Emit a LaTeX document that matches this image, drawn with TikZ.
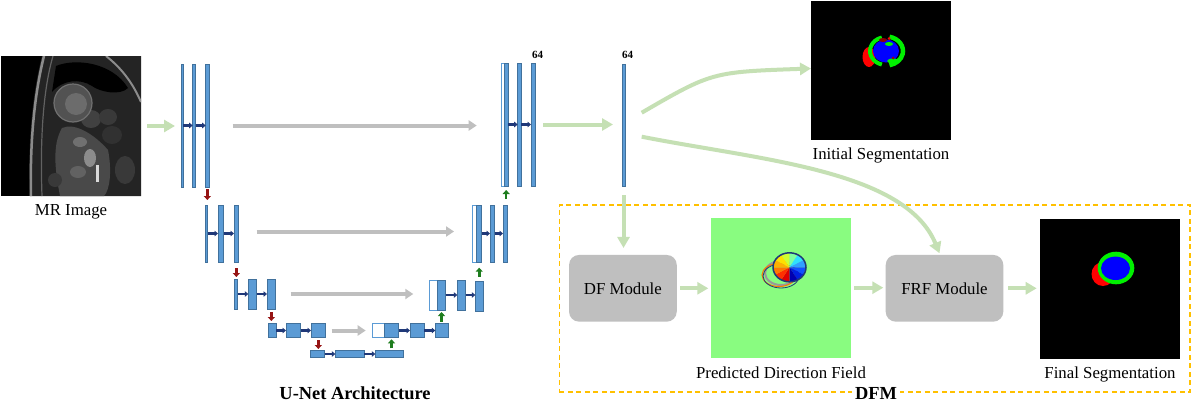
\documentclass[tikz,border=0pt]{standalone}
\usepackage{fontspec}
\setmainfont{Liberation Serif}
\usetikzlibrary{arrows.meta,fit,calc}
\definecolor{ublue}{RGB}{91,155,213}
\definecolor{ubord}{RGB}{65,113,156}
\definecolor{navyc}{RGB}{31,56,120}
\definecolor{redc}{RGB}{150,20,20}
\definecolor{greenc}{RGB}{30,125,30}
\definecolor{grayc}{RGB}{191,191,191}
\definecolor{lgreen}{RGB}{197,224,180}
\definecolor{modgray}{RGB}{191,191,191}
\definecolor{dfmorange}{RGB}{255,192,0}
\definecolor{dfgreen}{RGB}{137,252,128}
\definecolor{segred}{RGB}{255,0,0}
\definecolor{seggreen}{RGB}{0,240,0}
\definecolor{segblue}{RGB}{0,0,255}
\definecolor{mrdark}{gray}{0.14}
\definecolor{mrmid}{gray}{0.32}
\definecolor{mrlight}{gray}{0.55}
\definecolor{dfa}{RGB}{224,0,0}
\definecolor{dfb}{RGB}{255,48,0}
\definecolor{dfc}{RGB}{255,120,0}
\definecolor{dfd}{RGB}{255,176,0}
\definecolor{dfe}{RGB}{255,224,0}
\definecolor{dff}{RGB}{208,255,48}
\definecolor{dfg}{RGB}{128,255,160}
\definecolor{dfh}{RGB}{48,224,255}
\definecolor{dfi}{RGB}{48,160,255}
\definecolor{dfj}{RGB}{16,80,255}
\definecolor{dfk}{RGB}{0,32,224}
\definecolor{dfl}{RGB}{0,0,176}
\newcommand\ublk[6][ublkst]{\path (#3,#4) coordinate (#2-p) (#5,#6) coordinate (#2-q); \node[#1, fit=(#2-p)(#2-q)] (#2) {};}
\tikzset{
  lbl/.style={font=\fontsize{16.8}{20}\selectfont, inner sep=0pt},
  blbl/.style={font=\fontsize{18.4}{22}\selectfont\bfseries, inner sep=0pt},
  numlbl/.style={font=\fontsize{11}{13}\selectfont\bfseries, inner sep=0pt},
  ublkst/.style={fill=ublue, draw=ubord, line width=0.5pt, inner sep=0pt, outer sep=0pt},
  wblkst/.style={fill=white, draw=ublue, line width=0.8pt, inner sep=0pt, outer sep=0pt},
  imgst/.style={fill=black, inner sep=0pt, outer sep=0pt},
  modst/.style={fill=modgray, rounded corners=10pt, inner sep=0pt, outer sep=0pt, font=\fontsize{16.8}{20}\selectfont},
  dfmst/.style={draw=dfmorange, line width=1.3pt, dash pattern=on 5pt off 3.5pt, inner sep=0pt},
  navyarr/.style={draw=navyc, line width=2.4pt, -{Triangle[length=3.5pt,width=5.5pt]}},
  rarr/.style={draw=redc, line width=2.6pt, -{Triangle[length=4pt,width=7pt]}},
  gnarr/.style={draw=greenc, line width=2.6pt, -{Triangle[length=4pt,width=7pt]}},
  garr/.style={draw=grayc, line width=4pt, -{Triangle[length=8pt,width=10pt]}},
  lgarr/.style={draw=lgreen, line width=4pt, -{Triangle[length=11pt,width=12pt]}}
}
\begin{document}
\begin{tikzpicture}[x=1pt,y=-1pt]
\useasboundingbox (0,0) rectangle (1196,402);
\fill[white] (0,0) rectangle (1196,402);

% ---------- MR image ----------
\node[imgst, minimum width=140pt, minimum height=140pt] (mr) at (71,126) {};
\begin{scope}
\clip (1,56) rectangle (141,196);
\fill[mrdark] (42,56) .. controls (31,100) and (28,150) .. (30,196) -- (141,196) -- (141,56) -- cycle;
\fill[black] (56,66) .. controls (75,58) and (112,62) .. (128,88) .. controls (120,96) and (100,92) .. (92,86) .. controls (80,78) and (62,80) .. (52,92) -- cycle;
\draw[mrlight, line width=2.5pt] (44,56) .. controls (33,100) and (30,150) .. (31,196);
\draw[mrlight!70!black, line width=1.2pt] (53,56) .. controls (43,90) and (40,140) .. (42,196);
\draw[mrlight, line width=2pt] (106,56) .. controls (124,70) and (134,86) .. (141,102);
\fill[mrmid!80!black] (91,119) ellipse (10 and 9);
\fill[mrmid!70!black] (108,117) ellipse (9 and 8);
\fill[mrmid!60!black] (112,135) ellipse (10 and 9);
\fill[mrmid] (73,103) circle (19);
\draw[mrlight!80!black, line width=1.2pt] (73,103) circle (19);
\fill[mrmid!85!white] (76,104) circle (11);
\fill[mrmid!90!black] (62,128) .. controls (75,122) and (95,135) .. (108,150) .. controls (112,170) and (110,190) .. (104,196) -- (60,196) .. controls (55,170) and (52,145) .. cycle;
\fill[mrlight!80!black] (80,142) ellipse (7 and 5);
\fill[mrlight] (90,158) ellipse (6 and 9);
\fill[mrlight!70!black] (78,172) ellipse (8 and 6);
\fill[white!85!black] (96,165) rectangle (99,182);
\fill[mrmid!70!black] (55,180) circle (7);
\fill[mrmid!70!black] (125,170) ellipse (10 and 14);
\end{scope}
\node[lbl, anchor=base] (mrlbl) at (71,215) {MR Image};

% ---------- U-Net blocks ----------
\ublk{e1a}{181}{64}{183}{187}
\ublk{e1b}{192.7}{64}{195.7}{187}
\ublk{e1c}{205.7}{64}{209}{187}
\ublk[wblkst]{d1w}{501}{63}{504.3}{186}
\ublk{d1u}{504.3}{63}{508}{186}
\ublk{d1b}{517.7}{63}{521}{186}
\ublk{d1c}{531}{63}{535}{186}
\ublk{o1}{622}{64}{625}{186}

\ublk{e2a}{205}{205}{207.7}{262}
\ublk{e2b}{218}{205}{223.7}{262}
\ublk{e2c}{234}{205}{238.7}{262}
\ublk[wblkst]{d2w}{472}{205}{476.7}{262}
\ublk{d2u}{476.7}{205}{481.7}{262}
\ublk{d2b}{490}{205}{494.7}{262}
\ublk{d2c}{503}{205}{507.7}{262}

\ublk{e3a}{234}{279}{237.7}{309}
\ublk{e3b}{248.3}{279}{256.7}{309}
\ublk{e3c}{267}{279}{275.7}{309}
\ublk[wblkst]{d3w}{429.3}{280}{437.3}{310}
\ublk{d3u}{437.3}{280}{445.7}{310}
\ublk{d3b}{457.3}{280}{465.7}{310}
\ublk{d3c}{475.3}{281}{483.7}{311}

\ublk{e4a}{268}{323.3}{276}{337.7}
\ublk{e4b}{286}{323.3}{300.7}{337.7}
\ublk{e4c}{311}{323.3}{325.7}{337.7}
\ublk[wblkst]{d4w}{372.3}{323.3}{384.3}{337.7}
\ublk{d4u}{384.3}{323.3}{398.7}{337.7}
\ublk{d4b}{410}{323.3}{424.3}{337.7}
\ublk{d4c}{435.3}{323.3}{448.7}{337.7}

\ublk{b5a}{310.3}{350.7}{324.7}{357.3}
\ublk{b5b}{335.3}{350.7}{364.3}{357.3}
\ublk{b5c}{375.3}{350.7}{403.7}{357.3}

\node[numlbl, anchor=base] (n64a) at (537.5,58.5) {64};
\node[numlbl, anchor=base] (n64b) at (627.5,58.5) {64};
\node[blbl, anchor=base] (unetlbl) at (355,399) {U-Net Architecture};

% navy conv arrows
\draw[navyarr] (e1a) -- (e1b);
\draw[navyarr] (e1b) -- (e1c);
\draw[navyarr] (d1u) -- (d1b);
\draw[navyarr] (d1b) -- (d1c);
\draw[navyarr] (e2a) -- (e2b);
\draw[navyarr] (e2b) -- (e2c);
\draw[navyarr] (d2u) -- (d2b);
\draw[navyarr] (d2b) -- (d2c);
\draw[navyarr] (e3a) -- (e3b);
\draw[navyarr] (e3b) -- (e3c);
\draw[navyarr] (d3u.east) -- (d3u.east -| d3b.west);
\draw[navyarr] (d3b.east) -- (d3b.east -| d3c.west);
\draw[navyarr] (e4a) -- (e4b);
\draw[navyarr] (e4b) -- (e4c);
\draw[navyarr] (d4u) -- (d4b);
\draw[navyarr] (d4b) -- (d4c);
\draw[navyarr] (b5a) -- (b5b);
\draw[navyarr] (b5b) -- (b5c);

% gray skip arrows
\draw[garr] ([xshift=23.7pt]e1c.east) -- ([xshift=-24.3pt]e1c.east -| d1w.west);
\draw[garr] ([xshift=18pt,yshift=2pt]e2c.east) -- ([xshift=-18pt,yshift=2pt]e2c.east -| d2w.west);
\draw[garr] ([xshift=15pt]e3c.east) -- ([xshift=-16pt]e3c.east -| d3w.west);
\draw[garr] ([xshift=6pt]e4c.east) -- ([xshift=-6.6pt]e4c.east -| d4w.west);

% red pooling arrows
\draw[rarr] ([yshift=-2pt]e1c.south) -- ([yshift=5pt]e1c.south |- e2a.north);
\draw[rarr] ([yshift=-6pt]e2c.south) -- ([yshift=2pt]e2c.south |- e3a.north);
\draw[rarr] ([yshift=-3pt]e3c.south) -- ([yshift=2.3pt]e3c.south |- e4a.north);
\draw[rarr] ([yshift=-2.3pt]e4c.south) -- ([yshift=1.7pt]e4c.south |- b5a.north);

% green up arrows
\draw[gnarr] ([yshift=2.4pt]d4u.south |- b5c.north) -- ([yshift=-1.6pt]d4u.south);
\draw[gnarr] ([yshift=1.6pt]d3u.south |- d4c.north) -- ([yshift=-2pt]d3u.south);
\draw[gnarr] ([yshift=4.3pt]d2u.south |- d3c.north) -- ([yshift=-5.7pt]d2u.south);
\draw[gnarr] ([yshift=6pt]d1u.south |- d2c.north) -- ([yshift=-4pt]d1u.south);

% ---------- DFM frame ----------
\node[dfmst, minimum width=630.7pt, minimum height=187pt] (dfmbox) at (874.65,298.5) {};

% ---------- Initial segmentation ----------
\node[imgst, minimum width=140pt, minimum height=139pt] (initseg) at (881,70.5) {};
\fill[segred] (869,57) ellipse (6.5 and 10);
\draw[seggreen, line width=4pt] (886,51) ++(105:16 and 14) arc[start angle=105, end angle=255, x radius=16, y radius=14];
\draw[seggreen, line width=4.5pt] (886,51) ++(-78:17 and 14.5) arc[start angle=-78, end angle=78, x radius=17, y radius=14.5];
\fill[segblue] (886,51) ellipse (13 and 11.5);
\fill[seggreen] (893,61) ellipse (6 and 2.5);
\fill[seggreen] (889,44) ellipse (4 and 2);
\fill[segred!55!black] (883,40) ellipse (4 and 2);
\fill[segred] (889,38.5) circle (1.5);
\fill[segred!60!black] (893,58) circle (1.5);
\node[lbl, anchor=base] (initlbl) at (881,159.5) {Initial Segmentation};

% ---------- modules and DF image ----------
\node[modst, minimum width=107.7pt, minimum height=66.7pt] (df) at (622.9,288.3) {DF Module};
\node[modst, minimum width=117.6pt, minimum height=66.7pt] (frf) at (944.5,288.3) {FRF Module};

\node[imgst, fill=dfgreen, minimum width=140pt, minimum height=140pt] (pdf) at (781,287.7) {};
\draw[gray!80, line width=2pt] (781,273) ellipse (16 and 12);
\draw[dfc, line width=1pt] (779,275) ellipse (17 and 11.5);
\draw[navyc, line width=0.8pt] (781,276) ellipse (18 and 12);
\begin{scope}[shift={(789.5,267.3)}, yscale=0.88]
\foreach \a/\c in {90/dfa,120/dfb,150/dfc,180/dfd,210/dfe,240/dff,270/dfg,300/dfh,330/dfi,0/dfj,30/dfk,60/dfl}
  \fill[fill=\c] (0,0) -- (\a:16) arc[start angle=\a, end angle=\a+30, radius=16] -- cycle;
\draw[navyc, line width=1.5pt] (0,0) circle (16.5);
\end{scope}
\node[lbl, anchor=base] (pdflbl) at (781,378) {Predicted Direction Field};

% ---------- Final segmentation ----------
\node[imgst, minimum width=140pt, minimum height=140pt] (final) at (1110,289) {};
\fill[segred] (1103,274) ellipse (11.5 and 12);
\fill[seggreen] (1116,268) ellipse (18.3 and 16.3);
\fill[segblue] (1115.5,268.3) ellipse (14.5 and 11.7);
\node[lbl, anchor=base] (finallbl) at (1110,378) {Final Segmentation};

% ---------- light green flow arrows ----------
\draw[lgarr] ([xshift=6pt]mr.east) -- ([xshift=-6pt]mr.east -| e1a.west);
\draw[lgarr] ([xshift=8pt]d1c.east) -- ([xshift=-9pt]d1c.east -| o1.west);
\draw[lgarr] ([xshift=16.7pt,yshift=12.3pt]o1.east) .. controls (712,72) .. ([yshift=2pt]initseg.west);
\draw[lgarr] ([xshift=16.7pt,yshift=-11.7pt]o1.east) .. controls (760,160) and (905,170) .. ([xshift=-5pt,yshift=1.7pt]frf.north);
\draw[lgarr] ([yshift=-9pt]o1.south) -- ([yshift=7pt]o1.south |- df.north);
\draw[lgarr] ([xshift=3.3pt]df.east) -- ([xshift=-2.7pt]df.east -| pdf.west);
\draw[lgarr] ([xshift=3pt]pdf.east) -- ([xshift=-2.4pt]pdf.east -| frf.west);
\draw[lgarr] ([xshift=5pt]frf.east) -- ([xshift=-3.3pt]frf.east -| final.west);

\node[blbl, anchor=base, fill=white, inner xsep=3pt] (dfmlbl) at (876,399) {DFM};
\end{tikzpicture}
\end{document}
